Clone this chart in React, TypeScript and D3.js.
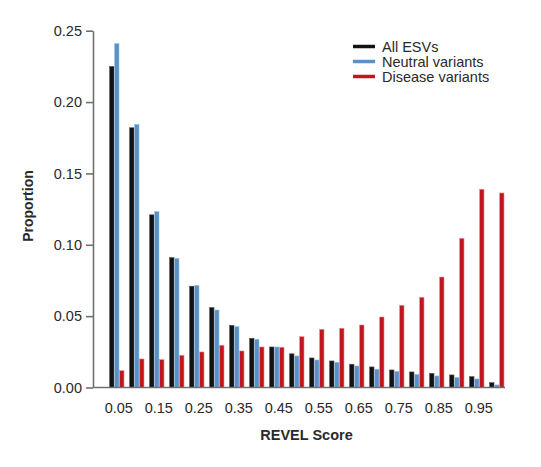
import { useEffect, useRef } from "react";
import * as d3 from "d3";

// 20 bins of REVEL score, every other bin is labelled
const bins = d3.range(20);
const tickLabels = ["0.05", "0.15", "0.25", "0.35", "0.45", "0.55", "0.65", "0.75", "0.85", "0.95"];

const allESVs = [
  0.225, 0.182, 0.121, 0.091, 0.071, 0.056, 0.0436, 0.0345, 0.0284, 0.0236,
  0.0207, 0.0186, 0.0163, 0.0144, 0.0123, 0.0109, 0.0099, 0.0088, 0.0076, 0.0034,
];
const neutral = [
  0.241, 0.1844, 0.1232, 0.0905, 0.0716, 0.0543, 0.0426, 0.0338, 0.0284, 0.0221,
  0.0193, 0.0177, 0.0151, 0.0128, 0.0113, 0.0092, 0.0081, 0.0071, 0.006, 0.0018,
];
const disease = [
  0.0118, 0.02, 0.0195, 0.0226, 0.0249, 0.0296, 0.0256, 0.0284, 0.0282, 0.0356,
  0.0408, 0.0415, 0.0438, 0.0494, 0.0576, 0.0632, 0.0774, 0.1045, 0.1389, 0.1363,
];

const seriesNames = ["All ESVs", "Neutral variants", "Disease variants"];
const seriesColors = ["#121212", "#5891c8", "#c2161f"];
const seriesEdge = ["#555555", "#9cc0e2", "#e58d92"];
const yTicks = [0, 0.05, 0.1, 0.15, 0.2, 0.25];

export default function App() {
  const svgRef = useRef<SVGSVGElement>(null);

  useEffect(() => {
    if (!svgRef.current) return;
    const svg = d3.select(svgRef.current);
    svg.selectAll("*").remove();

    const axisColor = "#707070";
    const textColor = "#2a2a2a";
    const font = "Liberation Sans, Arial, Helvetica, sans-serif";
    const axisX = 93;

    const x = d3
      .scaleBand<number>()
      .domain(bins)
      .range([106.8, 506.8])
      .paddingInner(0.25)
      .paddingOuter(0.125);
    const inner = d3
      .scaleBand<number>()
      .domain([0, 1, 2])
      .range([0, x.bandwidth()]);
    const y = d3.scaleLinear().domain([0, 0.25]).range([387.5, 30.7]);

    const series = [allESVs, neutral, disease];

    // Bars
    const groups = svg
      .append("g")
      .selectAll("g")
      .data(bins)
      .join("g")
      .attr("transform", (d) => `translate(${x(d)},0)`);

    groups
      .selectAll("rect")
      .data((i) => series.map((s, k) => ({ k, v: s[i] })))
      .join("rect")
      .attr("x", (d) => (inner(d.k) as number) + 0.3)
      .attr("y", (d) => y(d.v))
      .attr("width", inner.bandwidth() - 0.6)
      .attr("height", (d) => y(0) - y(d.v))
      .attr("fill", (d) => seriesColors[d.k])
      .attr("stroke", (d) => seriesEdge[d.k])
      .attr("stroke-width", 0.6);

    // Y axis
    const yAxis = svg
      .append("g")
      .attr("transform", `translate(${axisX},0)`)
      .call(
        d3
          .axisLeft(y)
          .tickValues(yTicks)
          .tickFormat(d3.format(".2f"))
          .tickSize(7)
          .tickSizeOuter(0)
          .tickPadding(4)
      );
    yAxis.select(".domain").attr("stroke", axisColor).attr("stroke-width", 1.6);
    yAxis.selectAll(".tick line").attr("stroke", axisColor).attr("stroke-width", 1.6);
    yAxis
      .selectAll(".tick text")
      .attr("fill", textColor)
      .attr("font-size", "14.5px")
      .attr("font-family", font);

    // X baseline
    svg
      .append("line")
      .attr("x1", axisX)
      .attr("x2", 505)
      .attr("y1", y(0))
      .attr("y2", y(0))
      .attr("stroke", axisColor)
      .attr("stroke-width", 1.6);

    // X labels
    svg
      .append("g")
      .selectAll("text")
      .data(tickLabels)
      .join("text")
      .attr("x", (_, i) => (x(i * 2) as number) + x.bandwidth() / 2 + 2)
      .attr("y", 412.5)
      .attr("text-anchor", "middle")
      .attr("fill", textColor)
      .attr("font-size", "14.5px")
      .attr("font-family", font)
      .text((d) => d);

    // Axis titles
    svg
      .append("text")
      .attr("x", 306.5)
      .attr("y", 440)
      .attr("text-anchor", "middle")
      .attr("fill", textColor)
      .attr("font-size", "14.5px")
      .attr("font-weight", "bold")
      .attr("font-family", font)
      .text("REVEL Score");

    svg
      .append("text")
      .attr("transform", "translate(32.5,206) rotate(-90)")
      .attr("text-anchor", "middle")
      .attr("fill", textColor)
      .attr("font-size", "14px")
      .attr("font-weight", "bold")
      .attr("font-family", font)
      .text("Proportion");

    // Legend
    const legend = svg
      .append("g")
      .selectAll("g")
      .data(seriesNames)
      .join("g")
      .attr("transform", (_, i) => `translate(353,${46.5 + i * 15})`);
    legend
      .append("line")
      .attr("x1", 0)
      .attr("x2", 22)
      .attr("stroke", (_, i) => seriesColors[i])
      .attr("stroke-width", 3.5);
    legend
      .append("text")
      .attr("x", 29)
      .attr("y", 5)
      .attr("fill", textColor)
      .attr("font-size", "14.5px")
      .attr("font-family", font)
      .text((d) => d);
  }, []);

  return (
    <div style={{ position: "absolute", left: 0, top: 0, background: "#fff" }}>
      <svg ref={svgRef} width={541} height={467} />
    </div>
  );
}
